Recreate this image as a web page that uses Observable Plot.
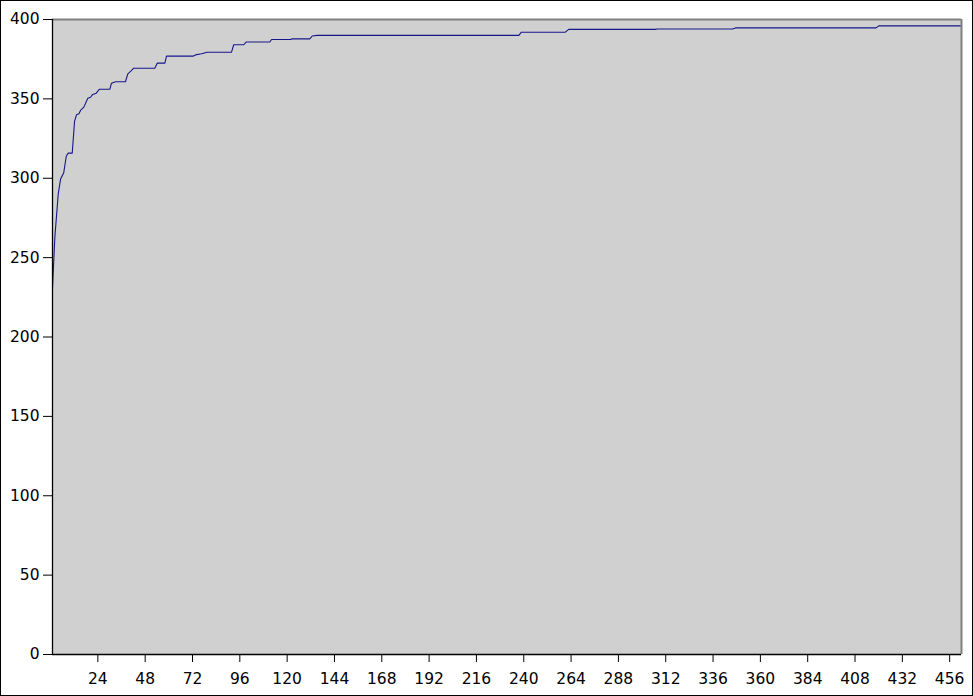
<!DOCTYPE html>
<html>
<head>
<meta charset="utf-8">
<script src="https://cdn.jsdelivr.net/npm/d3@7"></script>
<script src="https://cdn.jsdelivr.net/npm/@observablehq/plot@0.6"></script>
<style>
  html, body { margin: 0; padding: 0; background: white; }
  #chart svg { display: block; }
</style>
</head>
<body>
<div id="chart"></div>
<script>
const xValues = [1, 2.2, 3.9, 5.1, 6.7, 8, 9, 11, 12.2, 13.2, 14.4, 15.2, 16.9, 18.9, 20.3, 21.4, 23.2, 24.8, 30.1, 30.9, 33, 38, 39.2, 40.6, 42.2, 52.9, 54.1, 58, 58.8, 72.2, 73.5, 76.6, 79.4, 91.8, 92.9, 98, 99.2, 111.2, 112.1, 121.7, 122.5, 131.5, 132.7, 135.2, 237.5, 238.8, 261.1, 262.8, 306.8, 307.5, 346, 347.3, 418.7, 420, 462];
const yValues = [231, 263, 290, 299.5, 303.5, 314, 315.8, 315.8, 336, 340, 340.6, 342.7, 344.8, 350.4, 351, 352.8, 353.6, 356.1, 356.1, 359.9, 360.8, 360.8, 365.8, 367.3, 369.3, 369.3, 372.5, 372.5, 376.9, 376.9, 377.7, 378.4, 379.4, 379.4, 384.1, 384.1, 385.8, 385.8, 387.4, 387.4, 387.8, 387.8, 389.6, 390, 390, 392, 392, 393.8, 393.8, 394, 394, 394.7, 394.7, 396, 396];
const xTicks = [24, 48, 72, 96, 120, 144, 168, 192, 216, 240, 264, 288, 312, 336, 360, 384, 408, 432, 456];
const yTicks = [0, 50, 100, 150, 200, 250, 300, 350, 400];
const xDomain = [1, 462];
const yDomain = [0, 400];

const data = xValues.map((x, i) => ({x, y: yValues[i]}));

const chart = Plot.plot({
  width: 973,
  height: 696,
  marginLeft: 52,
  marginTop: 19,
  marginRight: 12,
  marginBottom: 42,
  style: {fontFamily: "DejaVu Sans", fontSize: "15.5px", background: "white", color: "black"},
  x: {domain: xDomain, label: null},
  y: {domain: yDomain, label: null},
  marks: [
    Plot.frame({fill: "#d0d0d0", stroke: null}),
    Plot.line(data, {x: "x", y: "y", stroke: "#16168a", strokeWidth: 1.1}),
    Plot.ruleY([yDomain[1]], {stroke: "#808080", strokeWidth: 2}),
    Plot.ruleX([xDomain[1]], {stroke: "#808080", strokeWidth: 2}),
    Plot.ruleY([yDomain[0]], {stroke: "black", strokeWidth: 1.3}),
    Plot.ruleX([xDomain[0]], {stroke: "black", strokeWidth: 1.3}),
    Plot.axisX({ticks: xTicks, tickSize: 8, tickPadding: 10, label: null, fontSize: 15.5}),
    Plot.axisY({ticks: yTicks, tickSize: 9, tickPadding: 4, label: null, fontSize: 15.5})
  ]
});

d3.select(chart).append("rect")
  .attr("x", 0.5).attr("y", 0.5)
  .attr("width", 972).attr("height", 695)
  .attr("fill", "none").attr("stroke", "black").attr("stroke-width", 1);

document.getElementById("chart").appendChild(chart);
</script>
</body>
</html>
